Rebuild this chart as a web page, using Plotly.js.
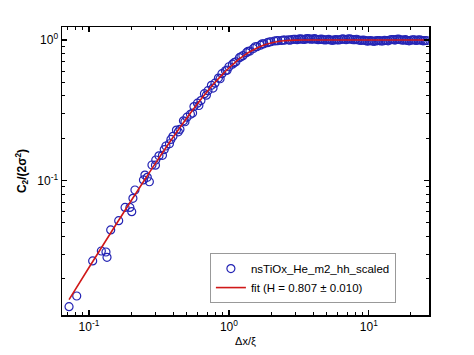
<!DOCTYPE html>
<html>
<head>
<meta charset="utf-8">
<script src="https://cdn.plot.ly/plotly-3.0.1.min.js"></script>
<style>html,body{margin:0;padding:0;background:#fff;}#chart{width:474px;height:355px;}</style>
</head>
<body>
<div id="chart"></div>
<script>
// Data points
const dataX = [
  0.0720, 0.0817, 0.1062, 0.1225, 0.1322, 0.1345, 0.1429, 0.163, 0.181, 0.196, 0.202, 0.206, 0.213, 0.245, 0.251, 0.261, 0.270,
  0.2818, 0.2985, 0.3162, 0.3350, 0.3548, 0.3758, 0.3981, 0.4217, 0.4467, 0.4732, 0.5012, 0.5309, 0.5623, 0.5957, 0.6310, 0.6683,
  0.7079, 0.7499, 0.7943, 0.8414, 0.8913, 0.9441, 1.0, 1.0593, 1.122, 1.1885, 1.2589, 1.3335, 1.4125, 1.4962, 1.5849, 1.6788,
  1.7783, 1.8836, 1.9953, 2.1135, 2.2387, 2.3714, 2.5119,
  2.661, 2.818, 2.985, 3.162, 3.350, 3.548, 3.758, 3.981, 4.217, 4.467, 4.732, 5.012, 5.309, 5.623, 5.957, 6.310, 6.683, 7.079,
  7.499, 7.943, 8.414, 8.913, 9.441, 10.0, 10.593, 11.22, 11.885, 12.589, 13.335, 14.125, 14.962, 15.849, 16.788, 17.783, 18.836,
  19.953, 21.135, 22.387, 23.714, 25.119, 25.9,
  0.30, 0.345, 0.385, 0.435, 0.485, 0.55, 0.61, 0.69, 0.77, 0.865, 0.97, 1.09, 1.22, 1.37, 1.54, 1.73, 1.94, 2.18, 2.44,
  2.738, 2.901, 3.073, 3.255, 3.448, 3.652, 3.868, 4.097, 4.340, 4.597, 4.870, 5.158, 5.464, 5.788, 6.131, 6.494, 6.879, 7.286,
  7.718, 8.175, 8.660, 9.173, 9.716, 10.292, 10.902, 11.548, 12.232, 12.957, 13.725, 14.538, 15.399, 16.312, 17.278, 18.302,
  19.387, 20.535, 21.752, 23.041, 24.406
];
const dataY = [
  0.01265, 0.01507, 0.0268, 0.0315, 0.0310, 0.0284, 0.0445, 0.0518, 0.0644, 0.0644, 0.060, 0.0747, 0.0856, 0.1009, 0.1094, 0.1054, 0.098,
  0.129, 0.1285, 0.150, 0.151, 0.176, 0.1826, 0.2064, 0.2286, 0.2312, 0.266, 0.2824, 0.2962, 0.336, 0.355, 0.3708, 0.4147,
  0.436, 0.4758, 0.4932, 0.536, 0.5755, 0.604, 0.645, 0.673, 0.700, 0.748, 0.773, 0.812, 0.834, 0.870, 0.896, 0.918,
  0.939, 0.957, 0.972, 0.984, 0.989, 0.992, 0.998,
  1.003, 1.008, 1.012, 1.015, 1.012, 1.018, 1.020, 1.016, 1.012, 1.010, 1.006, 1.004, 1.000, 0.998, 1.003, 1.008, 1.012, 1.016,
  1.012, 1.006, 1.000, 0.995, 0.990, 0.985, 0.982, 0.985, 0.990, 0.984, 0.992, 1.000, 1.006, 1.010, 1.004, 0.998, 0.992,
  0.996, 1.002, 0.998, 0.994, 0.990, 0.992,
  0.140, 0.166, 0.196, 0.222, 0.262, 0.302, 0.342, 0.405, 0.455, 0.530, 0.610, 0.690, 0.760, 0.830, 0.895, 0.940, 0.968, 0.988, 1.000,
  0.996, 1.012, 1.006, 1.020, 1.008, 1.022, 1.012, 1.022, 1.005, 1.014, 1.000, 1.010, 0.994, 1.006, 1.000, 1.018, 1.006, 1.020,
  1.004, 1.012, 0.994, 1.000, 0.982, 0.992, 0.978, 0.990, 0.984, 0.994, 0.986, 1.008, 0.998, 1.014, 0.998, 1.006,
  0.986, 1.004, 0.992, 1.004, 0.986
];
// Fit curve
const fitX = [0.072, 0.1, 0.15, 0.2, 0.25, 0.3, 0.4, 0.5, 0.6, 0.7, 0.8, 0.9, 1.0, 1.1, 1.2, 1.3, 1.4, 1.6, 1.8, 2.0, 2.25, 2.5, 3, 3.5, 4, 6, 10, 26];
const fitY = [0.01421, 0.02403, 0.04573, 0.07174, 0.1012, 0.1335, 0.2038, 0.2788, 0.355, 0.430, 0.5022, 0.5698, 0.6321, 0.6885, 0.7387, 0.7828, 0.8211, 0.8818, 0.9244, 0.9532, 0.9753, 0.9876, 0.9972, 0.9995, 0.9999, 1.0, 1.0, 1.0];

const dataName = "nsTiOx_He_m2_hh_scaled";
const fitName = "fit (H = 0.807 \u00B1 0.010)";

const xTickVals = [0.1, 1, 10];
const xTickText = ["10<sup>-1</sup>", "10<sup>0</sup>", "10<sup>1</sup>"];
const xMinorVals = [0.07, 0.08, 0.09, 0.2, 0.3, 0.4, 0.5, 0.6, 0.7, 0.8, 0.9, 2, 3, 4, 5, 6, 7, 8, 9, 20];
const yTickVals = [0.1, 1];
const yTickText = ["10<sup>-1</sup>", "10<sup>0</sup>"];
const yMinorVals = [0.02, 0.03, 0.04, 0.05, 0.06, 0.07, 0.08, 0.09, 0.2, 0.3, 0.4, 0.5, 0.6, 0.7, 0.8, 0.9];

const traces = [
  {
    x: dataX, y: dataY, type: 'scatter', mode: 'markers', name: dataName,
    marker: {symbol: 'circle-open', size: 8, color: '#2424b4', line: {width: 1.2, color: '#2424b4'}}
  },
  {
    x: fitX, y: fitY, type: 'scatter', mode: 'lines', name: fitName,
    line: {color: '#d01818', width: 1.6, shape: 'spline'}
  }
];

const axisCommon = {
  type: 'log', showgrid: false, zeroline: false,
  showline: true, linecolor: '#000', linewidth: 1.5, mirror: 'allticks',
  ticks: 'inside', ticklen: 5, tickwidth: 1.2, tickcolor: '#000',
  tickmode: 'array',
  tickfont: {family: 'Liberation Sans, Arial, sans-serif', size: 12, color: '#000'}
};

const layout = {
  width: 474, height: 355,
  margin: {l: 62, r: 45, t: 27, b: 40},
  paper_bgcolor: '#fff', plot_bgcolor: '#fff',
  showlegend: true,
  xaxis: Object.assign({}, axisCommon, {
    range: [-1.193, 1.43],
    tickvals: xTickVals, ticktext: xTickText,
    minor: {tickmode: 'array', tickvals: xMinorVals, ticks: 'inside', ticklen: 3, tickwidth: 1, tickcolor: '#000', showgrid: false},
    title: {text: '\u0394x/\u03BE', standoff: 4, font: {family: 'Liberation Sans, Arial, sans-serif', size: 11, color: '#000'}}
  }),
  yaxis: Object.assign({}, axisCommon, {
    range: [-1.957, 0.0925],
    tickvals: yTickVals, ticktext: yTickText,
    minor: {tickmode: 'array', tickvals: yMinorVals, ticks: 'inside', ticklen: 3, tickwidth: 1, tickcolor: '#000', showgrid: false},
    title: {text: '<b>C<sub>2</sub>/(2\u03C3<sup>2</sup>)</b>', standoff: 8, font: {family: 'Liberation Sans, Arial, sans-serif', size: 12, color: '#000'}}
  }),
  legend: {
    x: 0.403, y: 0.215, xanchor: 'left', yanchor: 'top',
    bgcolor: '#fff', bordercolor: '#999', borderwidth: 1,
    font: {family: 'Liberation Sans, Arial, sans-serif', size: 11.5, color: '#000'},
    itemwidth: 30, tracegroupgap: 0
  }
};

Plotly.newPlot('chart', traces, layout, {displayModeBar: false, staticPlot: true});
</script>
</body>
</html>
